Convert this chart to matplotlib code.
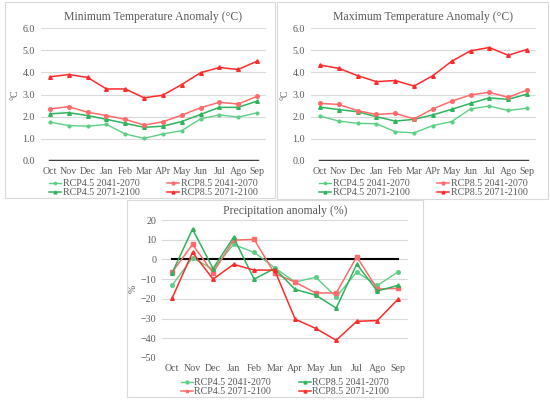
import numpy as np
import matplotlib.pyplot as plt
from matplotlib.patches import Rectangle

months = ["Oct", "Nov", "Dec", "Jan", "Feb", "Mar", "APr", "May", "Jun", "Jul", "Ago", "Sep"]
months_p = ["Oct", "Nov", "Dec", "Jan", "Feb", "Mar", "Apr", "May", "Jun", "Jul", "Ago", "Sep"]

# minimum temperature anomaly (°C)
tmin_45_2041 = [1.75, 1.60, 1.57, 1.65, 1.22, 1.02, 1.22, 1.37, 1.90, 2.08, 1.98, 2.17]
tmin_45_2071 = [2.13, 2.18, 2.05, 1.88, 1.70, 1.52, 1.57, 1.78, 2.10, 2.42, 2.42, 2.70]
tmin_85_2041 = [2.35, 2.45, 2.20, 2.05, 1.88, 1.62, 1.77, 2.07, 2.40, 2.65, 2.57, 2.92]
tmin_85_2071 = [3.80, 3.90, 3.77, 3.25, 3.25, 2.85, 2.97, 3.45, 3.98, 4.22, 4.13, 4.50]

# maximum temperature anomaly (°C)
tmax_45_2041 = [2.03, 1.80, 1.70, 1.68, 1.32, 1.27, 1.60, 1.78, 2.35, 2.48, 2.28, 2.38]
tmax_45_2071 = [2.43, 2.32, 2.22, 2.00, 1.80, 1.88, 2.08, 2.33, 2.60, 2.85, 2.78, 3.02]
tmax_85_2041 = [2.60, 2.55, 2.27, 2.10, 2.15, 1.90, 2.35, 2.70, 2.98, 3.10, 2.87, 3.20]
tmax_85_2071 = [4.33, 4.18, 3.85, 3.58, 3.63, 3.38, 3.85, 4.50, 4.97, 5.12, 4.77, 5.03]

# precipitation anomaly (%)
pr_45_2041 = [-13.2, 0.8, -5.0, 7.6, 3.6, -4.2, -11.5, -9.0, -19.0, -6.4, -13.2, -6.4]
pr_85_2041 = [-7.0, 15.4, -4.6, 11.2, -10.0, -4.6, -15.2, -18.1, -24.7, -2.4, -16.0, -13.2]
pr_45_2071 = [-6.6, 7.6, -6.8, 9.8, 10.2, -7.1, -11.5, -17.0, -17.0, 1.4, -15.0, -14.7]
pr_85_2071 = [-19.8, 3.6, -10.0, -2.5, -5.4, -5.4, -30.3, -35.0, -41.0, -31.4, -31.0, -20.3]

plt.rcParams["font.family"] = ["Liberation Serif", "DejaVu Serif"]
text_col = "#595959"
light_green = "#5ccf85"
green = "#2fb35c"
light_red = "#ff6b6b"
red = "#ff2a2a"

fig = plt.figure(figsize=(5.5, 4.03), dpi=100)

# chart boxes like the spreadsheet
for x0, y0, x1, y1 in [(5, 2, 275, 198), (277, 2, 548, 199), (127, 200, 423, 397)]:
    fig.add_artist(Rectangle((x0 / 550, 1 - y1 / 403), (x1 - x0) / 550, (y1 - y0) / 403,
                             transform=fig.transFigure, fill=False,
                             edgecolor="#d9d9d9", lw=0.8))


def style_axis(ax, labels, ylabel):
    x = np.arange(len(labels))
    ax.set_xlim(-0.5, len(labels) - 0.5)
    ax.set_xticks(x)
    ax.set_xticklabels(labels)
    ax.tick_params(length=0, labelsize=7.2, colors=text_col, pad=4)
    for s in ax.spines.values():
        s.set_visible(False)
    ax.grid(axis="y", color="#d9d9d9", lw=0.8)
    ax.set_axisbelow(True)
    ax.set_ylabel(ylabel, fontsize=7, color=text_col, labelpad=2)


def add_legend(ax, handles, y):
    ax.legend(handles=handles, loc="upper center", bbox_to_anchor=(0.5, y),
              ncol=2, frameon=False, fontsize=7.2, labelcolor=text_col,
              handlelength=1.2, handletextpad=0.15, columnspacing=2.8,
              labelspacing=0.0, borderpad=0, markerscale=0.8)


def temp_panel(rect, title, s1, s2, s3, s4):
    ax = fig.add_axes(rect)
    x = np.arange(12)
    ax.plot(x, np.zeros(12), color="#404040", lw=2.5, zorder=1)
    h1, = ax.plot(x, s1, color=light_green, marker="o", ms=2, lw=1, label="RCP4.5 2041-2070")
    h2, = ax.plot(x, s2, color=green, marker="^", ms=2.6, lw=1.1, label="RCP4.5 2071-2100")
    h3, = ax.plot(x, s3, color=light_red, marker="o", ms=2.6, lw=1.1, label="RCP8.5 2041-2070")
    h4, = ax.plot(x, s4, color=red, marker="^", ms=2.6, lw=1.1, label="RCP8.5 2071-2100")
    style_axis(ax, months, "°C")
    ax.set_ylim(0, 6)
    ax.set_yticks(np.arange(0, 7, 1))
    ax.set_yticklabels([f"{v:.1f}" for v in np.arange(0, 7, 1)])
    ax.set_title(title, fontsize=8.5, color=text_col, pad=6)
    add_legend(ax, [h1, h2, h3, h4], -0.1)
    return ax


temp_panel([0.0738, 0.6005, 0.4105, 0.330], "Minimum Temperature Anomaly (°C)",
           tmin_45_2041, tmin_45_2071, tmin_85_2041, tmin_85_2071)
temp_panel([0.5647, 0.6005, 0.4105, 0.330], "Maximum Temperature Anomaly (°C)",
           tmax_45_2041, tmax_45_2071, tmax_85_2041, tmax_85_2071)

# precipitation panel
ax = fig.add_axes([0.294, 0.1117, 0.448, 0.3423])
x = np.arange(12)
ax.plot(x, np.zeros(12), color="black", lw=1.5, zorder=1)
p1, = ax.plot(x, pr_45_2041, color=light_green, marker="o", ms=2.6, lw=1, label="RCP4.5 2041-2070")
p3, = ax.plot(x, pr_45_2071, color=light_red, marker="s", ms=2.6, lw=1.1, label="RCP4.5 2071-2100")
p2, = ax.plot(x, pr_85_2041, color=green, marker="^", ms=2.6, lw=1.1, label="RCP8.5 2041-2070")
p4, = ax.plot(x, pr_85_2071, color=red, marker="^", ms=2.6, lw=1.1, label="RCP8.5 2071-2100")
style_axis(ax, months_p, "%")
ax.set_ylim(-50, 20)
ax.set_yticks(np.arange(-50, 21, 10))
ax.set_title("Precipitation anomaly (%)", fontsize=8.5, color=text_col, pad=4)
add_legend(ax, [p1, p3, p2, p4], -0.11)

fig.savefig("out.png", dpi=100)
